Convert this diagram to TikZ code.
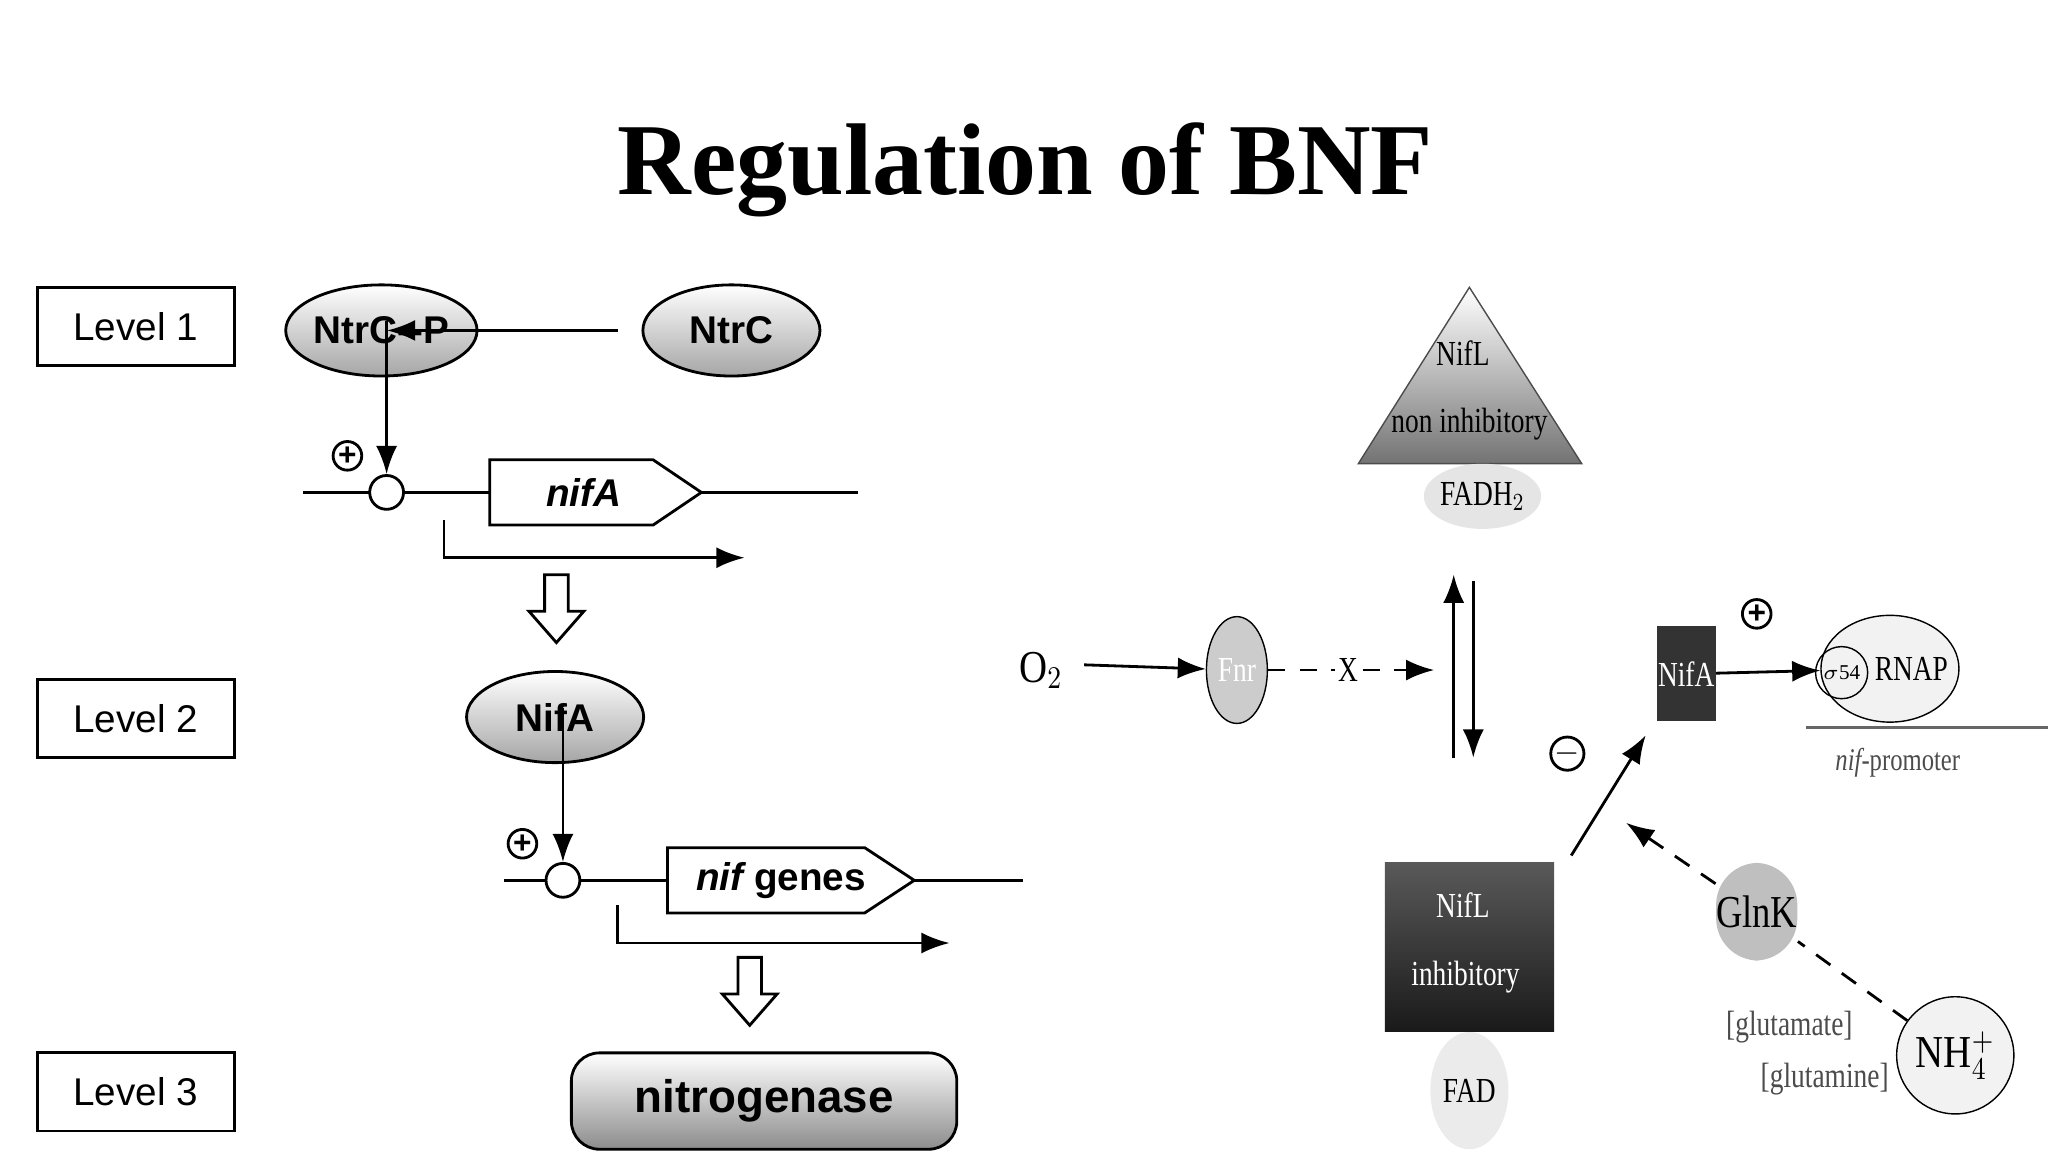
\documentclass[tikz,border=0pt]{standalone}
\usepackage{fontspec}
\setmainfont{Liberation Serif}
\newfontfamily\arialf{Liberation Sans}
\usetikzlibrary{arrows.meta,positioning,shapes.geometric,calc}
\def\pu{0.3705pt}
\tikzset{
  lvl/.style={draw,thick,minimum width={151*\pu},minimum height={60*\pu},font=\arialf\fontsize{11}{12}\selectfont},
  prot/.style={ellipse,draw,thick,minimum width={136*\pu},minimum height={70*\pu},inner sep=0pt,shade,top color=white,bottom color=black!35,font=\arialf\bfseries\fontsize{11}{12}\selectfont},
  prom/.style={circle,draw,thick,minimum size={26*\pu},inner sep=0pt,fill=white},
  plus/.style={circle,draw,thick,minimum size={22*\pu},inner sep=0pt,font=\arialf\bfseries\small},
  arr/.style={-{Latex[length=8pt,width=6pt]},thick},
  cond/.style={font=\fontsize{10}{11}\selectfont,xscale=.78},
}
\begin{document}
\begin{tikzpicture}[x=0.01306cm,y=-0.01306cm]
\useasboundingbox (0,0) rectangle (1568,882);
%title
\node (title) at (785,130) {\bfseries\fontsize{29}{32}\selectfont Regulation of BNF};
%levels
\node[lvl] (l1) at (104,250) {Level 1};
\node[lvl] (l2) at (104,550) {Level 2};
\node[lvl] (l3) at (104,836) {Level 3};
%level 1
\node[prot] (ntrcp) at (292,253) {NtrC--P};
\node[prot] (ntrc) at (560,253) {NtrC};
\draw[arr] (ntrc.west) ++(-18,0) coordinate (ntrcw) -- ([xshift=-26]ntrcp.east);
\coordinate (dna1a) at (232,377);
\coordinate (dna1b) at (657,377);
\draw[thick] (dna1a) -- (dna1b);
\node[prom] (p1) at (296,377) {};
\draw[arr] ([yshift=16]ntrcp.south -| p1) coordinate (s1) -- (p1);
\node[plus] (pl1) at (266,349) {+};
\draw[thick,fill=white] (375,352) -- (500,352) -- (537,377) -- (500,402) -- (375,402) -- cycle;
\node[font=\arialf\bfseries\itshape\fontsize{11}{12}\selectfont] (nifa) at (447,377) {nifA};
\coordinate (t1) at (570,427);
\draw[arr] (340,398) |- (t1);
\draw[thick] (417,440) -- (435,440) -- (435,468) -- (447,468) -- (426,492) -- (405,468) -- (417,468) -- cycle;
%level 2
\node[prot] (nifA) at (425,549) {NifA};
\node[prom] (p2) at (431,674) {};
\draw[thick] (386,674) -- (p2) -- (783,674);
\draw[arr] ([yshift=16]nifA.south -| p2) coordinate (s2) -- (p2);
\node[plus] (pl2) at (400,646) {+};
\draw[thick,fill=white] (511,649) -- (662,649) -- (700,674) -- (662,699) -- (511,699) -- cycle;
\node[font=\arialf\bfseries\fontsize{11}{12}\selectfont] (nifg) at (598,674) {\itshape nif\upshape\ genes};
\coordinate (t2) at (727,722);
\draw[arr] (473,693) |- (t2);
\draw[thick] (565,733) -- (583,733) -- (583,761) -- (595,761) -- (574,785) -- (553,761) -- (565,761) -- cycle;
%level 3
\node[draw,thick,rounded corners=8,minimum width={296*\pu},minimum height={74*\pu},shade,top color=white,bottom color=black!45,font=\arialf\bfseries\fontsize{13}{14}\selectfont] (nitro) at (585,843) {nitrogenase};
%right part
\shade[draw=black!70,top color=white,bottom color=black!55] (1040,355) -- (1125,220) -- (1211,355) -- cycle;
\node[cond] (nifl1) at (1120,270) {NifL};
\node[cond] (noninh) at (1125,325) {non inhibitory};
\node[ellipse,fill=black!10,minimum width={90*\pu},minimum height={50*\pu},inner sep=0pt] (fadh) at (1135,380) {};
\node[cond] at (fadh) {FADH$_2$};
\coordinate (up1) at (1113,580); \coordinate (up2) at (1113,440);
\coordinate (dn1) at (1128,445); \coordinate (dn2) at (1128,580);
\draw[arr] (up1) -- (up2);
\draw[arr] (dn1) -- (dn2);
\node[font=\fontsize{13}{14}\selectfont,xscale=.85] (o2) at (797,513) {O$_2$};
\node[ellipse,draw,fill=black!20,minimum width={60*\pu},minimum height={82*\pu},inner sep=0pt,text=white,cond] (fnr) at (947,513) {Fnr};
\draw[arr] (o2) ++(33,-4) coordinate (o2e) -- (fnr);
\coordinate (fx) at (1098,513);
\draw[arr,dashed,dash pattern=on 5pt off 4pt] (fnr) -- (fx);
\node[cond,fill=white,inner sep=1pt] (xx) at (1032,513) {X};
\node[fill=black!80,minimum width={58*\pu},minimum height={73*\pu},inner sep=0pt,text=white,cond] (nifA2) at (1291,516) {NifA};
\node[ellipse,draw,fill=black!5,minimum width={106*\pu},minimum height={82*\pu},inner sep=0pt] (rnap) at (1447,512) {};
\node[circle,draw,minimum size={40*\pu},inner sep=0pt,font=\fontsize{6}{7}\selectfont] (sig) at (1410,515) {$\sigma$54};
\node[cond,anchor=west] (rn) at (1428,512) {RNAP};
\draw[arr] (nifA2) -- (rnap);
\node[plus] (pl3) at (1345,470) {+};
\coordinate (pa) at (1383,557); \coordinate (pb) at (1568,557);
\draw[thick,black!60] (pa) -- (pb);
\node[cond,font=\fontsize{9}{10}\selectfont,black!70] (nifp) at (1453,584) {\itshape nif\upshape -promoter};
\node[plus,font=\arialf\bfseries\small] (min) at (1200,577) {$-$};
\node[minimum width={130*\pu},minimum height={130*\pu},inner sep=0pt,shade,top color=black!65,bottom color=black!90] (nifl2) at (1125,725) {};
\node[cond,text=white] at (1120,693) {NifL};
\node[cond,text=white] at (1122,748) {inhibitory};
\node[ellipse,fill=black!8,minimum width={60*\pu},minimum height={90*\pu},inner sep=0pt] (fad) at (1125,835) {};
\node[cond] at (fad) {FAD};
\coordinate (na) at (1203,655);
\draw[arr] (na) -- (1260,563) coordinate (nb);
\node[rounded corners=12,fill=black!25,minimum width={75*\pu},minimum height={75*\pu},inner sep=0pt,font=\fontsize{13}{14}\selectfont,xscale=.8] (glnk) at (1345,698) {GlnK};
\coordinate (gk) at (1245,630);
\draw[arr,dashed,dash pattern=on 5pt off 4pt] (glnk) -- (gk);
\node[circle,draw,fill=black!5,minimum size={90*\pu},inner sep=0pt] (nh4) at (1497,808) {};
\node[font=\fontsize{13}{14}\selectfont,xscale=.85] at (nh4) {NH$_4^+$};
\draw[thick,dashed,dash pattern=on 5pt off 4pt] (nh4) -- (glnk);
\node[cond,black!70] (glu1) at (1370,786) {[glutamate]};
\node[cond,black!70] (glu2) at (1397,826) {[glutamine]};
\end{tikzpicture}
\end{document}
